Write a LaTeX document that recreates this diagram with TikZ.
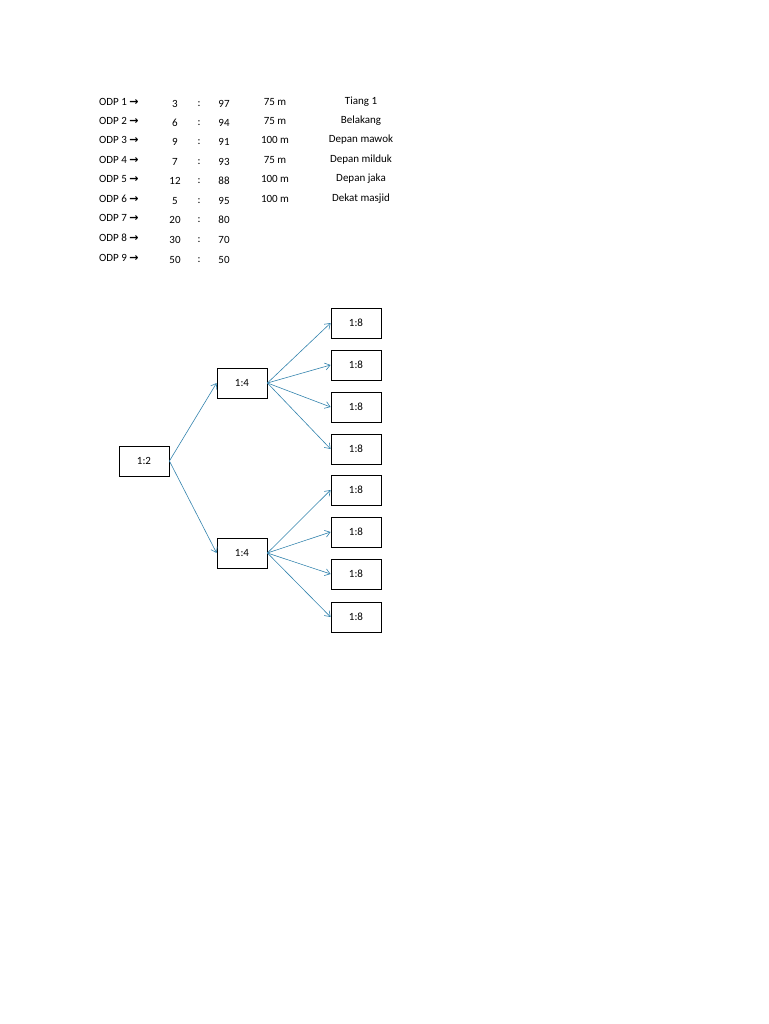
\documentclass[tikz,border=0pt]{standalone}
\usepackage{fontspec}
\setmainfont{Carlito}
\newfontfamily\arrowfont{DejaVu Sans}
\usetikzlibrary{arrows.meta}
\begin{document}
\begin{tikzpicture}[x=1pt, y=-1pt, >={Straight Barb[length=5pt,width=7pt]},
	box/.style = {draw, thick, minimum width=50pt, minimum height=30pt, inner sep=0pt, font=\fontsize{11}{13}\selectfont},
	link/.style = {->, draw=blue!35!cyan!60!black!80, line width=0.6pt},
	txt/.style = {font=\fontsize{11}{13}\selectfont, inner sep=0pt}]
					\useasboundingbox (0,0) rectangle (768,1024);

					% The ODP table
						\foreach \i/\a/\b/\d/\p/\y in {
							1/3/97/{75 m}/{Tiang 1}/102,
							2/6/94/{75 m}/Belakang/121,
							3/9/91/{100 m}/{Depan mawok}/140,
							4/7/93/{75 m}/{Depan milduk}/160,
							5/12/88/{100 m}/{Depan jaka}/179,
							6/5/95/{100 m}/{Dekat masjid}/199,
							7/20/80/{}/{}/218,
							8/30/70/{}/{}/238,
							9/50/50/{}/{}/258} {
								\node [txt, anchor=west] (odp\i) at (99,\y) {ODP \i\ {\arrowfont\bfseries →}};
								\node [txt] (a\i) at (175,\y+2) {\a};
								\node [txt] (c\i) at (199,\y+2) {:};
								\node [txt] (b\i) at (224,\y+2) {\b};
								\node [txt] (d\i) at (275,\y) {\d};
								\node [txt] (p\i) at (361,\y) {\p};
								}

					% The splitter tree
						\node [box] (s2) at (144,461) {1:2};
						\node [box] (s4a) at (242,383) {1:4};
						\node [box] (s4b) at (242,553) {1:4};
						\draw [link] (s2.east) -- (s4a.west);
						\draw [link] (s2.east) -- (s4b.west);

						\foreach \k/\y in {1/323, 2/365, 3/407, 4/449} {
							\node [box] (s8a\k) at (356,\y) {1:8};
							\draw [link] (s4a.east) -- (s8a\k.west);
							}
						\foreach \k/\y in {1/490, 2/532, 3/574, 4/617} {
							\node [box] (s8b\k) at (356,\y) {1:8};
							\draw [link] (s4b.east) -- (s8b\k.west);
							}

					\end{tikzpicture}
\end{document}
